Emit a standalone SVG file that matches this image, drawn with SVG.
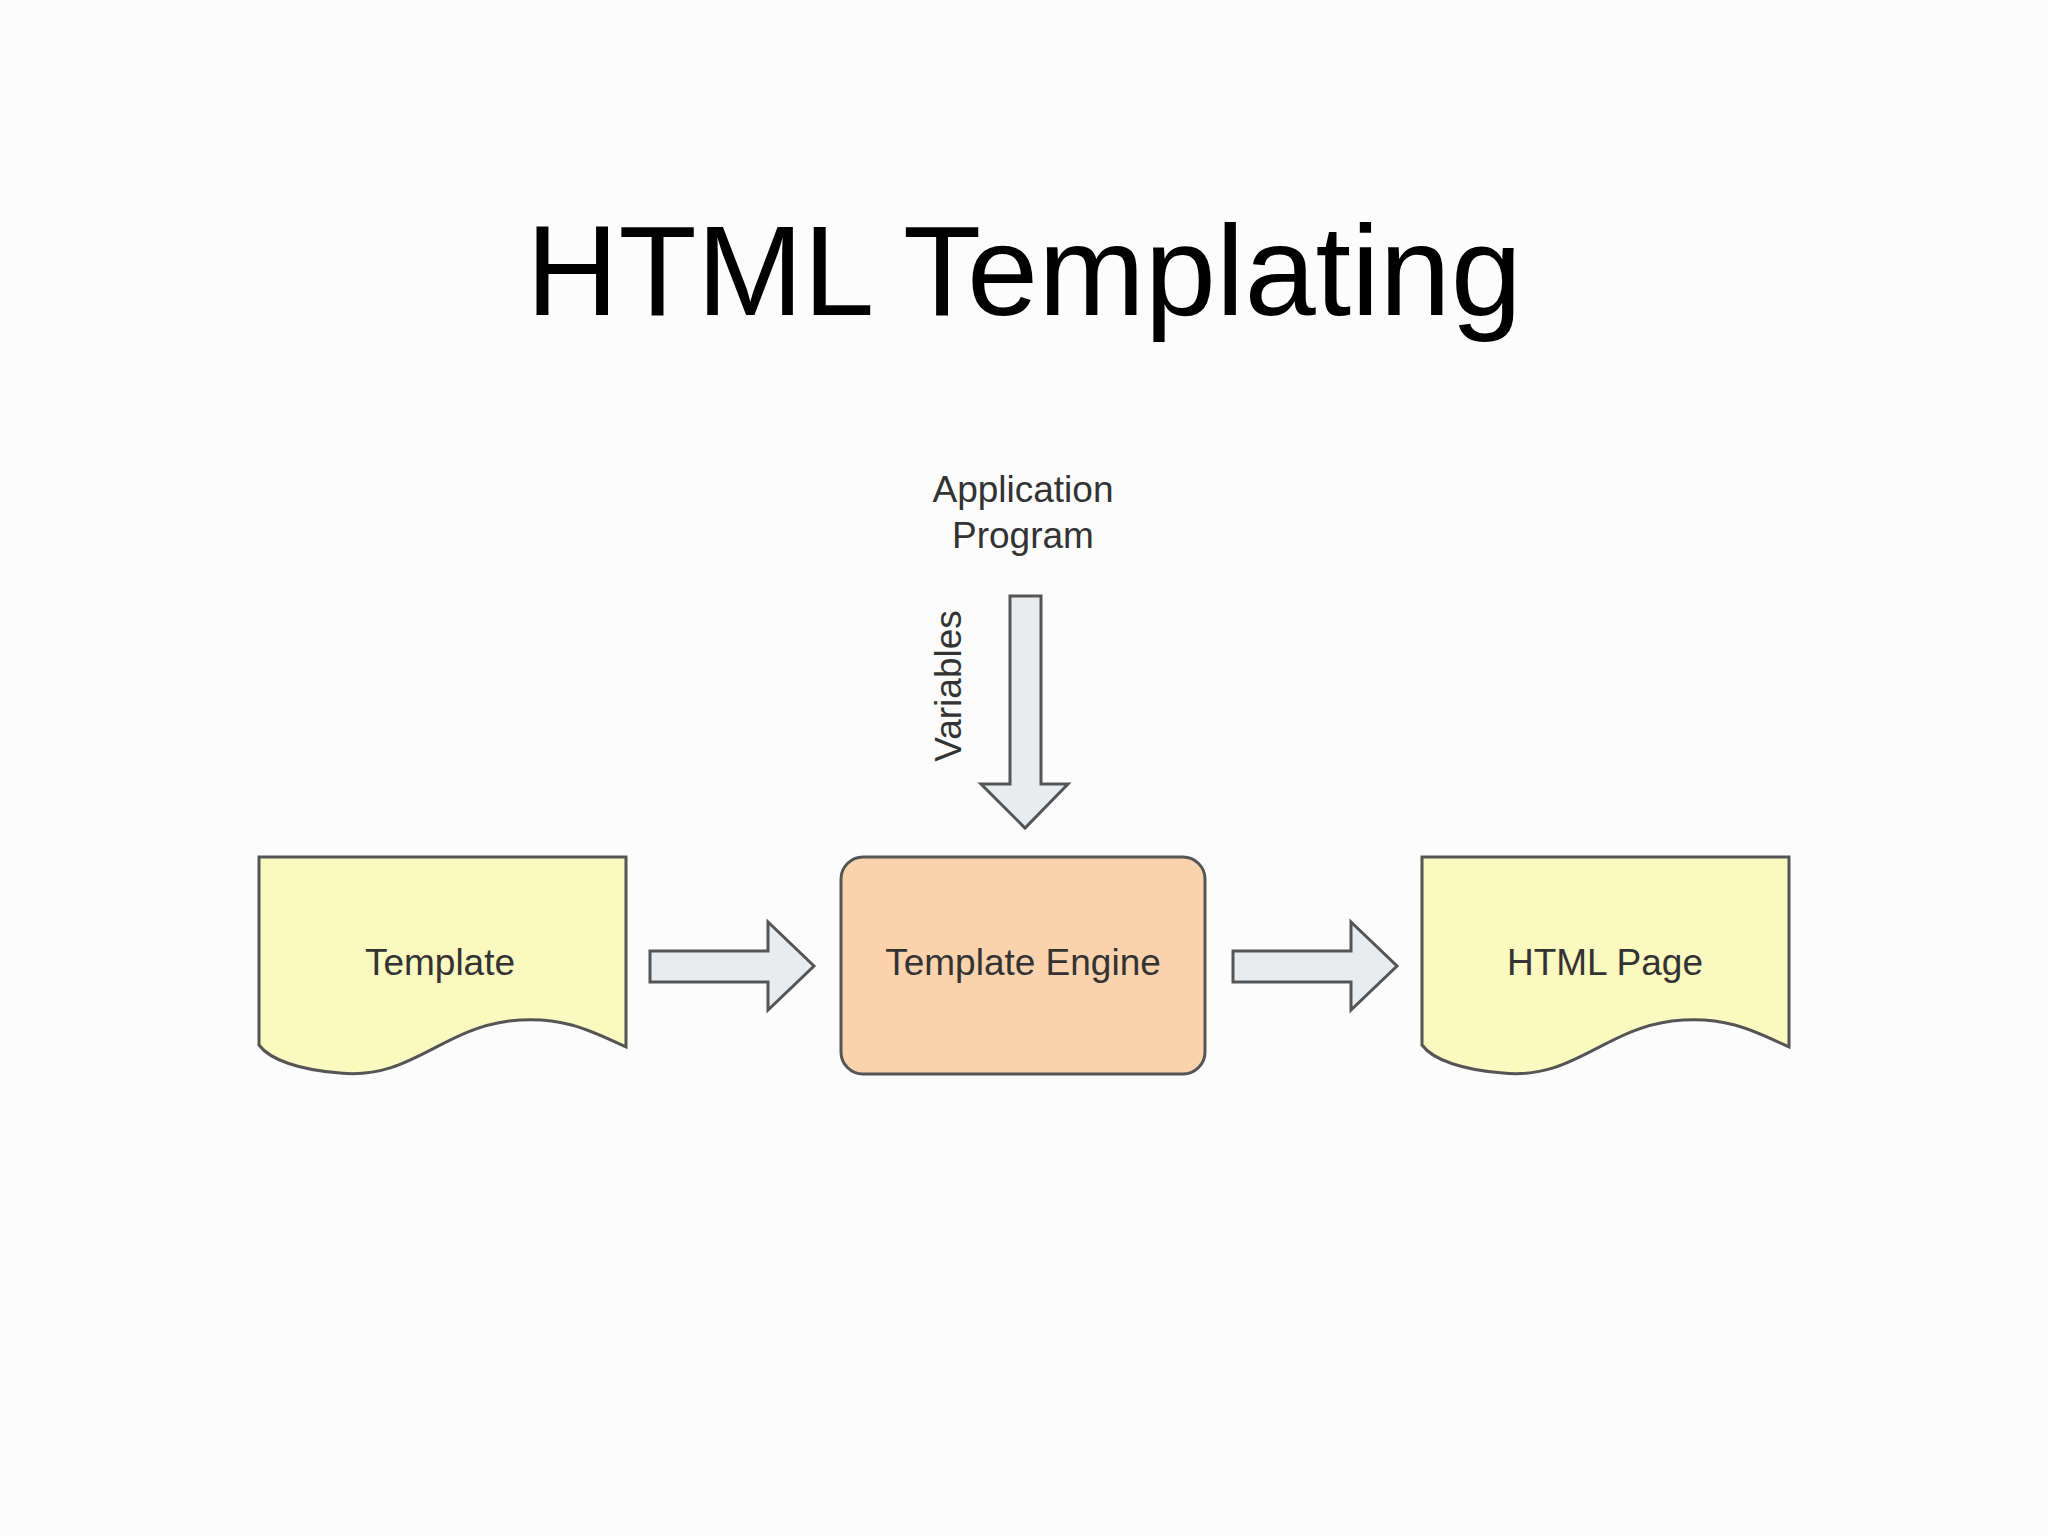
<svg xmlns="http://www.w3.org/2000/svg" width="2048" height="1536" viewBox="0 0 2048 1536">
<style>
.doc{fill:#fbf8c0;stroke:#555;stroke-width:3}
.arr{fill:#e8ecef;stroke:#555;stroke-width:3;stroke-linejoin:miter}
.lbl{font-family:"Liberation Sans",Arial,sans-serif;font-size:37px;fill:#333;text-anchor:middle}
</style>
<rect width="2048" height="1536" fill="#fcfcfc"/>
<text x="1024" y="315" font-family="Liberation Sans,Arial,sans-serif" font-size="128" text-anchor="middle" fill="#000">HTML Templating</text>
<g id="template">
<path class="doc" d="M259,857 H626 V1047 C590,1030 560,1015 509,1021 C440,1030 410,1080 340,1073 C300,1070 270,1060 259,1045 Z"/>
<text class="lbl" x="440" y="975">Template</text>
</g>
<g id="engine">
<rect x="841" y="857" width="364" height="217" rx="22" fill="#fad3ad" stroke="#555" stroke-width="3"/>
<text class="lbl" x="1023" y="975">Template Engine</text>
</g>
<g id="html">
<path class="doc" d="M1422,857 H1789 V1047 C1753,1030 1723,1015 1672,1021 C1603,1030 1573,1080 1503,1073 C1463,1070 1433,1060 1422,1045 Z"/>
<text class="lbl" x="1605" y="975">HTML Page</text>
</g>
<g id="app">
<text class="lbl" x="1023" y="502">Application</text>
<text class="lbl" x="1023" y="548">Program</text>
</g>
<g id="connectors">
<path class="arr" d="M650,951 H768 V922 L814,966 L768,1010 V982 H650 Z"/>
<path class="arr" d="M1233,951 H1351 V922 L1397,966 L1351,1010 V982 H1233 Z"/>
<path class="arr" d="M1010,596 H1041 V784 H1068 L1025,828 L981,784 H1010 Z"/>
<text class="lbl" x="0" y="0" font-size="40" transform="translate(961,686) rotate(-90)">Variables</text>
</g>
</svg>
